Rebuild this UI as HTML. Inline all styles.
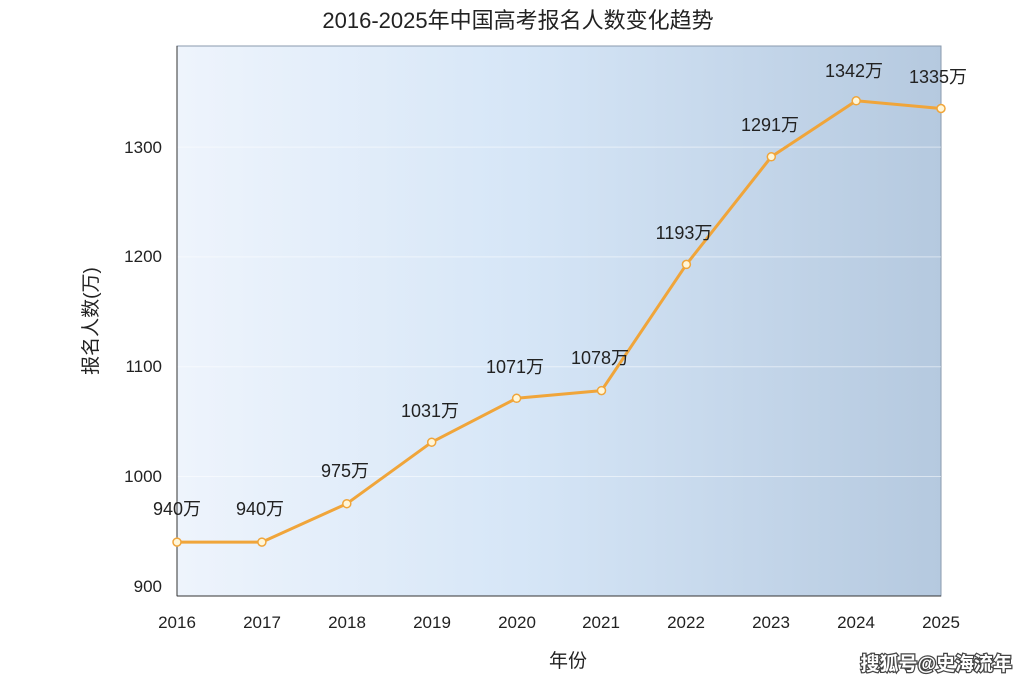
<!DOCTYPE html><html><head><meta charset="utf-8"><style>body{margin:0;background:#fff}svg{display:block}text{font-family:"Liberation Sans","Noto Sans CJK SC",sans-serif;fill:#222}</style></head><body>
<svg width="1036" height="686" viewBox="0 0 1036 686">
<defs><linearGradient id="g" x1="0" x2="1" y1="0" y2="0"><stop offset="0" stop-color="#eef4fc"/><stop offset="0.45" stop-color="#d6e6f7"/><stop offset="1" stop-color="#b5c9df"/></linearGradient></defs>
<text x="518" y="28" font-size="22" text-anchor="middle">2016-2025年中国高考报名人数变化趋势</text>
<rect x="177" y="46" width="764" height="550" fill="url(#g)" stroke="#8a9aae" stroke-width="1"/>
<g stroke="#fff" stroke-opacity="0.5" stroke-width="1">
<line x1="177" x2="941" y1="476.5" y2="476.5"/><line x1="177" x2="941" y1="366.7" y2="366.7"/><line x1="177" x2="941" y1="256.9" y2="256.9"/><line x1="177" x2="941" y1="147.1" y2="147.1"/>
</g>
<line x1="177" y1="46" x2="177" y2="596" stroke="#333"/><line x1="177" y1="596" x2="941" y2="596" stroke="#333"/>
<g font-size="17" text-anchor="end">
<text x="162" y="592">900</text><text x="162" y="482">1000</text><text x="162" y="372">1100</text><text x="162" y="262">1200</text><text x="162" y="153">1300</text>
</g>
<g font-size="17" text-anchor="middle">
<text x="177" y="628">2016</text><text x="262" y="628">2017</text><text x="347" y="628">2018</text><text x="432" y="628">2019</text><text x="517" y="628">2020</text><text x="601" y="628">2021</text><text x="686" y="628">2022</text><text x="771" y="628">2023</text><text x="856" y="628">2024</text><text x="941" y="628">2025</text>
</g>
<text x="568" y="667" font-size="19" text-anchor="middle">年份</text>
<text transform="translate(97,321) rotate(-90)" font-size="19" text-anchor="middle">报名人数(万)</text>
<polyline fill="none" stroke="#f0a53a" stroke-width="3" stroke-linejoin="round" points="177,542.1 261.9,542.1 346.8,503.7 431.7,442.2 516.6,398.3 601.5,390.6 686.4,264.4 771.3,156.8 856.2,100.8 941,108.5"/>
<g fill="#fff6d8" stroke="#f0a53a" stroke-width="1.5">
<circle cx="177" cy="542.1" r="4"/><circle cx="261.9" cy="542.1" r="4"/><circle cx="346.8" cy="503.7" r="4"/><circle cx="431.7" cy="442.2" r="4"/><circle cx="516.6" cy="398.3" r="4"/><circle cx="601.5" cy="390.6" r="4"/><circle cx="686.4" cy="264.4" r="4"/><circle cx="771.3" cy="156.8" r="4"/><circle cx="856.2" cy="100.8" r="4"/><circle cx="941" cy="108.5" r="4"/>
</g>
<g font-size="18" text-anchor="middle">
<text x="177" y="515">940万</text><text x="260" y="515">940万</text><text x="345" y="477">975万</text><text x="430" y="417">1031万</text><text x="515" y="373">1071万</text><text x="600" y="364">1078万</text><text x="684" y="239">1193万</text><text x="770" y="131">1291万</text><text x="854" y="77">1342万</text><text x="938" y="83">1335万</text>
</g>
<text x="1012" y="670" font-size="19" font-weight="bold" text-anchor="end" style="fill:#fff;stroke:#444;stroke-width:2.5;paint-order:stroke">搜狐号@史海流年</text>
</svg></body></html>
